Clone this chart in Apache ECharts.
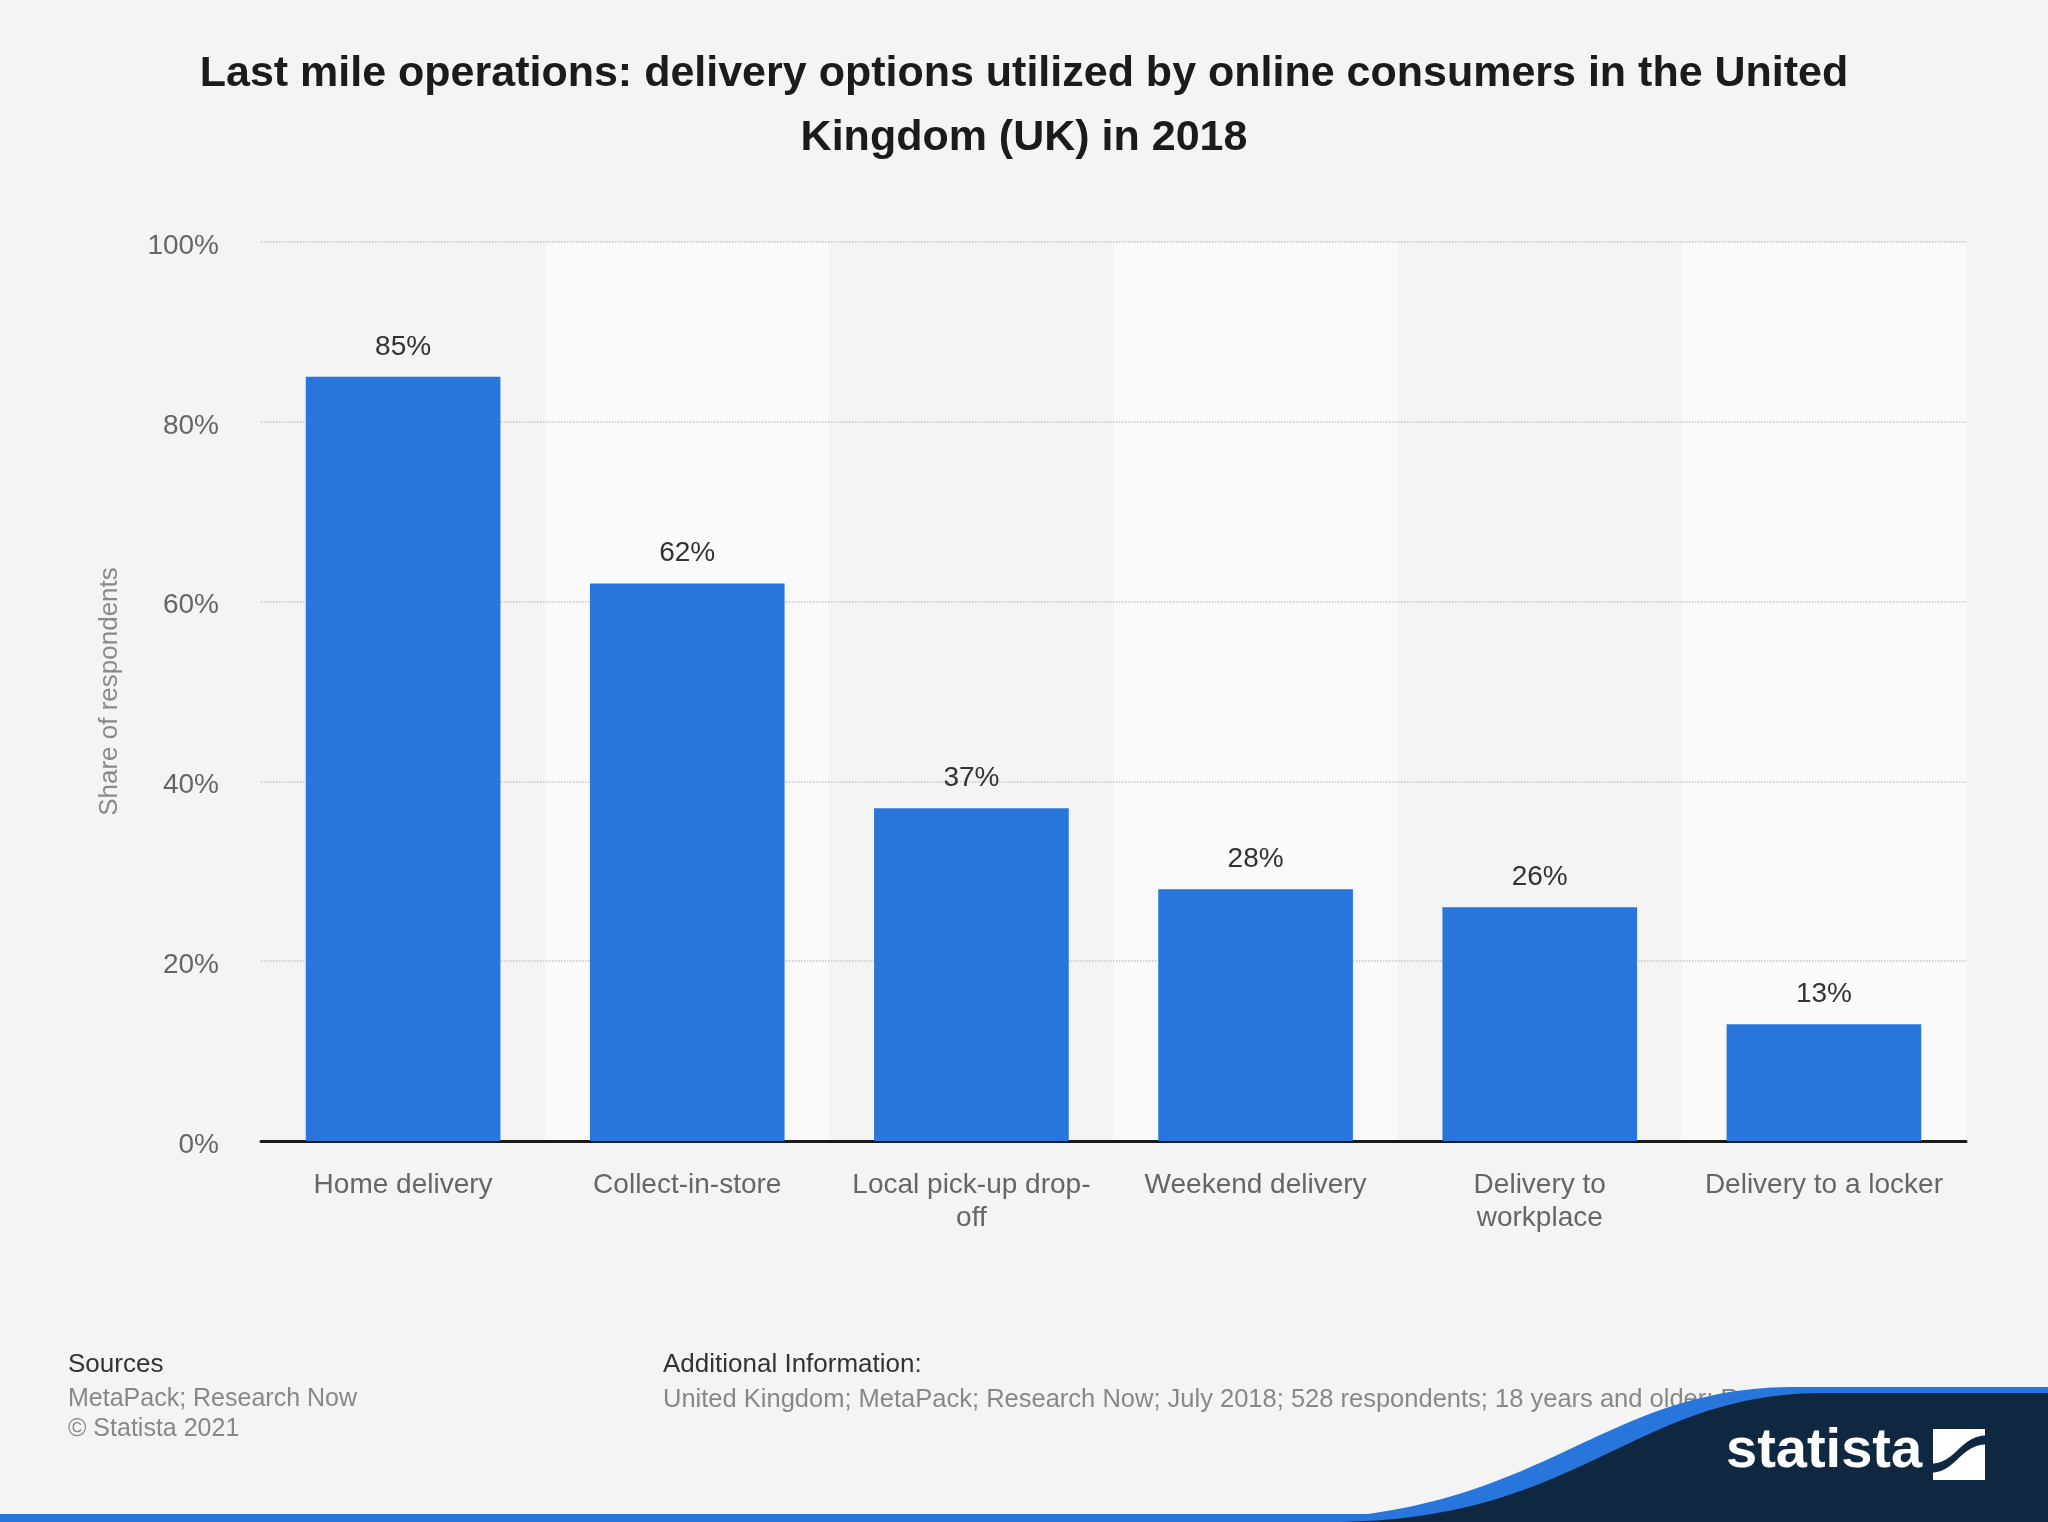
<!DOCTYPE html>
<html>
<head>
<meta charset="utf-8">
<script src="https://cdn.jsdelivr.net/npm/echarts@6/dist/echarts.min.js"></script>
<style>
  html, body { margin: 0; padding: 0; background: #f4f4f4; }
  #main { width: 2048px; height: 1522px; }
</style>
</head>
<body>
<div id="main"></div>
<script>
// data
var categories = ['Home delivery', 'Collect-in-store', 'Local pick-up drop-off', 'Weekend delivery', 'Delivery to workplace', 'Delivery to a locker'];
var shares = [85, 62, 37, 28, 26, 13];
var yTicks = [0, 20, 40, 60, 80, 100];

var blue = '#2876dc';
var navy = '#0e2842';
var font = 'Arial, "Liberation Sans", sans-serif';

// line breaks like the original labels
var labelWrap = {
    'Local pick-up drop-off': 'Local pick-up drop-\noff',
    'Delivery to workplace': 'Delivery to\nworkplace'
};

// points of a cubic bezier, for the logo shapes
function bezierPts(p0, p1, p2, p3, n) {
    var pts = [];
    for (var i = 0; i <= n; i++) {
        var t = i / n, u = 1 - t;
        pts.push([
            u * u * u * p0[0] + 3 * u * u * t * p1[0] + 3 * u * t * t * p2[0] + t * t * t * p3[0],
            u * u * u * p0[1] + 3 * u * u * t * p1[1] + 3 * u * t * t * p2[1] + t * t * t * p3[1]
        ]);
    }
    return pts;
}
var wavePoly = bezierPts([1330, 1522], [1580, 1522], [1630, 1395], [1820, 1393], 60)
    .concat([[2070, 1393], [2070, 1540], [1330, 1540]]);
var waveBlue = [[1240, 1540], [1240, 1523]]
    .concat(bezierPts([1290, 1520], [1545, 1514], [1598, 1389], [1790, 1387], 60))
    .concat([[2070, 1387], [2070, 1540]]);
// s-shaped slash in the logo square
var slashMid = bezierPts([1931, 1468], [1956, 1468], [1960, 1440], [1987, 1440], 30);
var slash = slashMid.map(function (p) { return [p[0], p[1] - 4.5]; })
    .concat(slashMid.slice().reverse().map(function (p) { return [p[0], p[1] + 4.5]; }));

var chart = echarts.init(document.getElementById('main'));
chart.setOption({
    backgroundColor: '#f4f4f4',
    animation: false,
    textStyle: { fontFamily: font },
    title: {
        text: 'Last mile operations: delivery options utilized by online consumers in the United\nKingdom (UK) in 2018',
        left: 'center',
        top: 37,
        textStyle: { fontSize: 43, fontWeight: 'bold', color: '#1b1b1b', lineHeight: 64, fontFamily: font }
    },
    grid: { left: 261, right: 82, top: 242, bottom: 381 },
    xAxis: {
        type: 'category',
        data: categories,
        z: 0,
        axisTick: { show: false },
        axisLine: { lineStyle: { color: '#1a1a1a', width: 3 } },
        axisLabel: {
            interval: 0,
            margin: 28,
            fontSize: 28,
            lineHeight: 33,
            color: '#666',
            formatter: function (v) { return labelWrap[v] || v; }
        },
        splitArea: {
            show: true,
            interval: 0,
            areaStyle: { color: ['rgba(0,0,0,0)', '#fafafa'] }
        }
    },
    yAxis: {
        type: 'value',
        z: 1,
        min: yTicks[0],
        max: yTicks[yTicks.length - 1],
        interval: 20,
        name: 'Share of respondents',
        nameLocation: 'middle',
        nameGap: 138,
        nameTextStyle: { fontSize: 26, color: '#8a8a8a' },
        axisLine: { show: false },
        axisTick: { show: false },
        axisLabel: { fontSize: 28, color: '#666', margin: 42, lineHeight: 36, verticalAlign: 'top', padding: [-14, 0, 0, 0], formatter: '{value}%' },
        splitLine: { showMinLine: false, lineStyle: { color: '#c4c4c4', type: 'dotted', width: 1.5 } }
    },
    series: [{
        type: 'bar',
        data: shares,
        barWidth: '68.5%',
        z: 3,
        itemStyle: { color: blue },
        label: {
            show: true,
            position: 'top',
            distance: 16,
            fontSize: 28,
            color: '#333',
            formatter: '{c}%'
        }
    }],
    graphic: [
        { type: 'text', left: 68, top: 1352, z: 1, style: { text: 'Sources', fill: '#333', font: '26px ' + font } },
        { type: 'text', left: 68, top: 1387, z: 1, style: { text: 'MetaPack; Research Now', fill: '#888', font: '25px ' + font } },
        { type: 'text', left: 68, top: 1417, z: 1, style: { text: '\u00a9 Statista 2021', fill: '#888', font: '25px ' + font } },
        { type: 'text', left: 663, top: 1352, z: 1, style: { text: 'Additional Information:', fill: '#333', font: '26px ' + font } },
        { type: 'text', left: 663, top: 1387, z: 1, style: { text: 'United Kingdom; MetaPack; Research Now; July 2018; 528 respondents; 18 years and older; Representative online survey', fill: '#888', font: '25.5px ' + font } },
        // bottom blue strip
        { type: 'rect', shape: { x: 0, y: 1514, width: 2048, height: 8 }, style: { fill: blue }, z: 10 },
        // logo wave
        { type: 'polygon', z: 11, shape: { points: waveBlue }, style: { fill: blue } },
        { type: 'polygon', z: 12, shape: { points: wavePoly }, style: { fill: navy } },
        { type: 'text', z: 13, left: 1726, top: 1424, style: { text: 'statista', fill: '#fff', font: 'bold 56px ' + font } },
        { type: 'rect', z: 13, shape: { x: 1933, y: 1429, width: 52, height: 51 }, style: { fill: '#fff' } },
        { type: 'polygon', z: 14, shape: { points: slash }, style: { fill: navy } }
    ]
});
</script>
</body>
</html>
